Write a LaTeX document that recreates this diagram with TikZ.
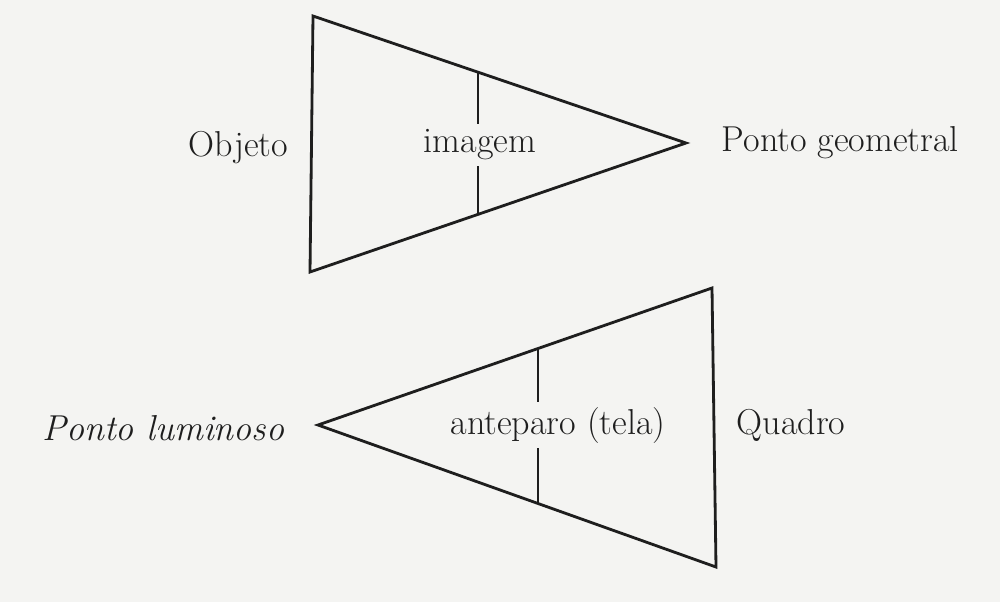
\documentclass[tikz,border=0pt]{standalone}
\definecolor{pagebg}{RGB}{244,244,242}
\definecolor{ink}{RGB}{30,30,30}
\tikzset{
  edge/.style={draw=ink, line width=1.6pt, line join=miter},
  lbl/.style={text=ink, font=\fontsize{20.5}{24}\selectfont, inner sep=2pt},
  cut/.style={lbl, fill=pagebg, inner sep=3pt}
}
\begin{document}
\begin{tikzpicture}[x=0.2mm, y=-0.2mm]
  \fill[pagebg] (0,0) rectangle (1000,602);
  \useasboundingbox (0,0) rectangle (1000,602);
  % top triangle
  \coordinate (Ot) at (313,16);
  \coordinate (Ob) at (310,272);
  \coordinate (Pg) at (686,143);
  \coordinate (It) at (478,73);
  \coordinate (Ib) at (478,214);
  \draw [edge] (Ot) -- (Pg) -- (Ob) -- cycle;
  \draw [edge] (It) -- (Ib);
  \node [lbl, anchor=east] (objeto) at (292,148) {Objeto};
  \node [cut] (imagem) at (480,145) {imagem};
  \node [lbl, anchor=west] (geometral) at (718,143) {Ponto geometral};
  % bottom triangle
  \coordinate (Pl) at (318,425);
  \coordinate (Qt) at (712,288);
  \coordinate (Qb) at (716,567);
  \coordinate (At) at (538,349);
  \coordinate (Ab) at (538,504);
  \draw [edge] (Pl) -- (Qt) -- (Qb) -- cycle;
  \draw [edge] (At) -- (Ab);
  \node [lbl, anchor=east, font=\fontsize{20.5}{24}\selectfont\itshape] (luminoso) at (288,428) {Ponto luminoso};
  \node [cut] (anteparo) at (558,425) {anteparo (tela)};
  \node [lbl, anchor=west] (quadro) at (733,425) {Quadro};
\end{tikzpicture}
\end{document}
